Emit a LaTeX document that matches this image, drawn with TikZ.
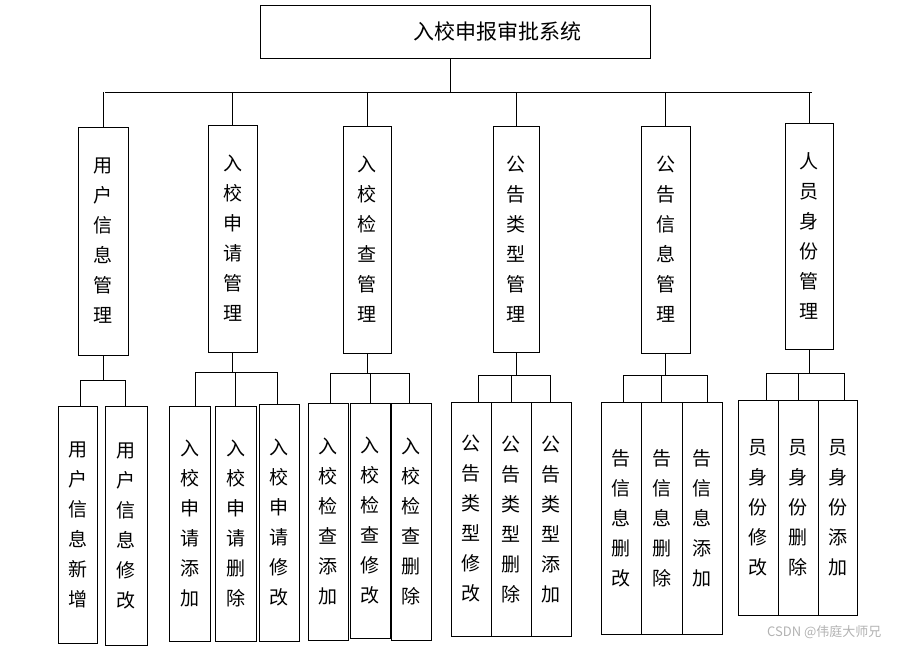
\documentclass[tikz,border=0pt]{standalone}
\usepackage{fontspec}
\newfontfamily\cjk{Noto Sans CJK SC}
\begin{document}
\begin{tikzpicture}[x=1pt,y=-1pt,
  box/.style={draw,line width=0.8pt,inner sep=0pt,align=center,font=\cjk\fontsize{19}{30}\selectfont},
  ln/.style={line width=0.8pt}]
\useasboundingbox (0,0) rectangle (899,651);
\node[box,minimum width=390pt,minimum height=53pt,font=\cjk\fontsize{21}{24}\selectfont] (top) at (455,31.5) {\hspace*{85pt}入校申报审批系统};
\coordinate (bar) at (450,92);
\draw[ln] (top.south -| bar) -- (bar);
\draw[ln] (105,92) -- (812,92);
% level 2
\foreach \n/\x/\ya/\yb/\w/\t in {
 a/103/127/355/50/用\\户\\信\\息\\管\\理,
 b/232.5/125/352/49/入\\校\\申\\请\\管\\理,
 c/367/126/353/48/入\\校\\检\\查\\管\\理,
 d/516/126/352/46/公\\告\\类\\型\\管\\理,
 e/665.5/126/353/49/公\\告\\信\\息\\管\\理,
 f/809/123/349/48/人\\员\\身\\份\\管\\理}{
  \node[box,minimum width=\w pt,minimum height={(\yb-\ya)*1pt}] (\n) at (\x,{(\ya+\yb)/2}) {\t};
  \draw[ln] (\x,92) -- (\n.north);
}
% level 3 bars
\foreach \n/\xl/\xr/\y in {a/80/125/380,b/195/277/372,c/330/409/373,d/478/550/375,e/623/707/375,f/766/844/373}{
  \coordinate (bl\n) at (\xl,\y);
  \coordinate (br\n) at (\xr,\y);
  \draw[ln] (\n.south) -- (\n.south |- bl\n);
  \draw[ln] (bl\n) -- (br\n);
}
\foreach \n/\p/\x/\w/\ya/\yb/\xb/\t in {
 a1/a/77.5/39/406/643/80/用\\户\\信\\息\\新\\增,
 a2/a/126/42/406/645/125/用\\户\\信\\息\\修\\改,
 b1/b/189.5/41/406/641/195/入\\校\\申\\请\\添\\加,
 b2/b/235.5/41/406/641/235.5/入\\校\\申\\请\\删\\除,
 b3/b/279/40/404/641/277/入\\校\\申\\请\\修\\改,
 c1/c/328/40/403/640/330/入\\校\\检\\查\\添\\加,
 c2/c/370/40/403/638/370/入\\校\\检\\查\\修\\改,
 c3/c/411/40/403/640/409/入\\校\\检\\查\\删\\除,
 d1/d/471/40/402/636/478/公\\告\\类\\型\\修\\改,
 d2/d/511/40/402/636/511/公\\告\\类\\型\\删\\除,
 d3/d/551/40/402/636/550/公\\告\\类\\型\\添\\加,
 e1/e/621/40/402/634/623/告\\信\\息\\删\\改,
 e2/e/661.5/41/402/634/661.5/告\\信\\息\\删\\除,
 e3/e/702/40/402/634/707/告\\信\\息\\添\\加,
 f1/f/758/40/400/615/766/员\\身\\份\\修\\改,
 f2/f/798/40/400/615/798/员\\身\\份\\删\\除,
 f3/f/837.5/39/400/615/844/员\\身\\份\\添\\加}{
  \node[box,minimum width=\w pt,minimum height={(\yb-\ya)*1pt}] (\n) at (\x,{(\ya+\yb)/2}) {\t};
  \draw[ln] (\xb,0 |- bl\p) -- (\xb,\ya);
}
\node[font=\cjk\fontsize{13}{14}\selectfont,text=gray!60,anchor=east] (wm) at (885,632) {CSDN @伟庭大师兄};
\end{tikzpicture}
\end{document}
